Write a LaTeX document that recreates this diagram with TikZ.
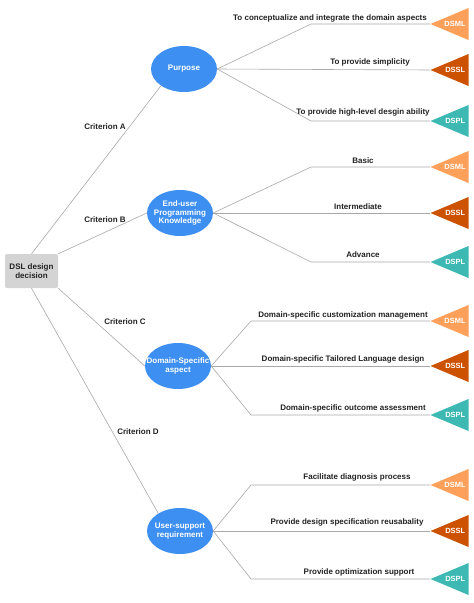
\documentclass[tikz,border=0pt]{standalone}
\usepackage{fontspec}
\setmainfont{Liberation Sans}
\usetikzlibrary{shapes.geometric}
\definecolor{blobblue}{HTML}{3D8FF2}
\definecolor{dsmlcol}{HTML}{FFA05A}
\definecolor{dsslcol}{HTML}{CC5200}
\definecolor{dsplcol}{HTML}{3DB8B3}
\definecolor{rootgray}{HTML}{D4D4D4}
\definecolor{linegray}{HTML}{A8A8A8}
\definecolor{textdark}{HTML}{222222}
\tikzstyle{rootbox}=[rectangle,rounded corners=2pt,fill=rootgray,
                     minimum width=53pt,minimum height=34pt,inner sep=0pt,
                     align=center,text=textdark,
                     font=\bfseries\fontsize{8}{8.5}\selectfont]
\tikzstyle{critblob}=[ellipse,fill=blobblue,inner sep=0pt,
                      minimum width=66pt,minimum height=46pt]
\tikzstyle{blobtext}=[inner sep=0pt,text=white,align=center,
                      font=\bfseries\fontsize{8}{8.5}\selectfont]
\tikzstyle{langtri}=[isosceles triangle,shape border rotate=180,
                     isosceles triangle stretches,inner sep=0pt,
                     minimum width=32pt,minimum height=38pt,anchor=apex,
                     text=white,font=\bfseries\fontsize{7.5}{8}\selectfont]
\tikzstyle{link}=[draw=linegray,line width=0.6pt]
\tikzstyle{lbl}=[inner sep=0pt,text=textdark,
                 font=\bfseries\fontsize{8}{9}\selectfont]

\begin{document}
\begin{tikzpicture}[x=1pt,y=-1pt]
    \useasboundingbox (0,0) rectangle (474,603);
    % root and criteria
    \node (root) at (31.5,271) [rootbox] {DSL design\\decision};
    \node (pur) at (184,69)  [critblob,label={[blobtext]center:Purpose}] {};
    \node (eup) at (180,213) [critblob,label={[blobtext]center:End-user\\Programming\\Knowledge}] {};
    \node (dsa) at (178,366) [critblob,label={[blobtext]center:Domain-Specific\\aspect}] {};
    \node (usr) at (180,531) [critblob,label={[blobtext]center:User-support\\requirement}] {};
    \draw[link] (root.north) -- (pur.216);
    \draw[link] (root.north east) -- (eup.west);
    \draw[link] (root.south east) -- (dsa.west);
    \draw[link] (root.south) -- (usr.141);
    \node (ca) at (105,127) [lbl] {Criterion A};
    \node (cb) at (105,220) [lbl] {Criterion B};
    \node (cc) at (125,322) [lbl] {Criterion C};
    \node (cd) at (138,432) [lbl] {Criterion D};
    % languages
    \node (p1) at (430,24)  [langtri,fill=dsmlcol] {DSML};
    \node (p2) at (430,70)  [langtri,fill=dsslcol] {DSSL};
    \node (p3) at (430,121) [langtri,fill=dsplcol] {DSPL};
    \node (e1) at (430,167) [langtri,fill=dsmlcol] {DSML};
    \node (e2) at (430,213) [langtri,fill=dsslcol] {DSSL};
    \node (e3) at (430,262) [langtri,fill=dsplcol] {DSPL};
    \node (d1) at (430,321) [langtri,fill=dsmlcol] {DSML};
    \node (d2) at (430,366) [langtri,fill=dsslcol] {DSSL};
    \node (d3) at (430,415) [langtri,fill=dsplcol] {DSPL};
    \node (u1) at (430,485) [langtri,fill=dsmlcol] {DSML};
    \node (u2) at (430,531) [langtri,fill=dsslcol] {DSSL};
    \node (u3) at (430,579) [langtri,fill=dsplcol] {DSPL};
    \draw[link] (pur.east) -- (311,24)  -- (p1.apex);
    \draw[link] (pur.east) -- (p2.apex);
    \draw[link] (pur.east) -- (311,121) -- (p3.apex);
    \draw[link] (eup.east) -- (311,167) -- (e1.apex);
    \draw[link] (eup.east) -- (e2.apex);
    \draw[link] (eup.east) -- (311,262) -- (e3.apex);
    \draw[link] (dsa.east) -- (251,321) -- (d1.apex);
    \draw[link] (dsa.east) -- (d2.apex);
    \draw[link] (dsa.east) -- (251,415) -- (d3.apex);
    \draw[link] (usr.east) -- (251,485) -- (u1.apex);
    \draw[link] (usr.east) -- (u2.apex);
    \draw[link] (usr.east) -- (251,579) -- (u3.apex);
    % option labels
    \node (tp1) at (330,18)  [lbl] {To conceptualize and integrate the domain aspects};
    \node (tp2) at (370,62)  [lbl] {To provide simplicity};
    \node (tp3) at (363,112) [lbl] {To provide high-level desgin ability};
    \node (te1) at (363,161) [lbl] {Basic};
    \node (te2) at (358,207) [lbl] {Intermediate};
    \node (te3) at (363,255) [lbl] {Advance};
    \node (td1) at (343,315) [lbl] {Domain-specific customization management};
    \node (td2) at (343,359) [lbl] {Domain-specific Tailored Language design};
    \node (td3) at (353,408) [lbl] {Domain-specific outcome assessment};
    \node (tu1) at (357,477) [lbl] {Facilitate diagnosis process};
    \node (tu2) at (347,522) [lbl] {Provide design specification reusabality};
    \node (tu3) at (359,572) [lbl] {Provide optimization support};
  \end{tikzpicture}
\end{document}
